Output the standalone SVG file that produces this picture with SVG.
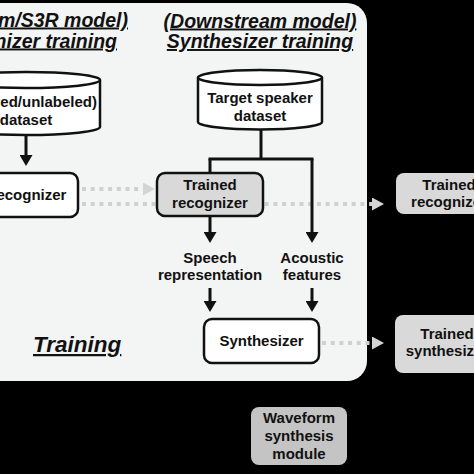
<svg xmlns="http://www.w3.org/2000/svg" width="474" height="474" viewBox="0 0 474 474">
<style>
  text { font-family: "Liberation Sans", Arial, sans-serif; font-weight: bold; fill: #111; }
  .t { font-size: 15px; text-anchor: middle; }
  .title { font-size: 19.5px; font-style: italic; text-decoration: underline; }
  .box { fill: #ffffff; stroke: #111; stroke-width: 2.5; }
  .gbox { fill: #d9d9d9; stroke: #111; stroke-width: 2.5; }
  .obox { fill: #d9d9d9; }
  .wbox { fill: #c4c4c4; }
  .line { fill: none; stroke: #111; stroke-width: 3; }
  .dot { fill: none; stroke: #d0d0d0; stroke-width: 4; stroke-dasharray: 4 4.7; }
</style>
<defs>
  <marker id="ah" markerUnits="userSpaceOnUse" markerWidth="12" markerHeight="13" refX="0" refY="6.5" orient="auto">
    <path d="M0,0 L11,6.5 L0,13 Z" fill="#111"/>
  </marker>
  <marker id="gh" markerUnits="userSpaceOnUse" markerWidth="13" markerHeight="13" refX="0" refY="6.5" orient="auto">
    <path d="M0,0 L12,6.5 L0,13 Z" fill="#d4d4d4"/>
  </marker>
</defs>
<rect x="0" y="0" width="474" height="474" fill="#000"/>
<rect id="panel" x="-30" y="3" width="397" height="378" rx="20" fill="#f3f4f4"/>

<g id="titles">
  <text class="title" x="128" y="26.5" text-anchor="end">(Upstream/S3R model)</text>
  <text class="title" x="117" y="47.5" text-anchor="end">Recognizer training</text>
  <text class="title" x="260" y="27.5" text-anchor="middle">(Downstream model)</text>
  <text class="title" x="260" y="48" text-anchor="middle">Synthesizer training</text>
</g>

<g id="connectors">
  <path class="dot" d="M82,189 H143" marker-end="url(#gh)"/>
  <path class="dot" d="M82,204 H372" marker-end="url(#gh)"/>
  <path class="dot" d="M322,343 H372" marker-end="url(#gh)"/>
  <path class="line" d="M26,135 V155" marker-end="url(#ah)"/>
  <path class="line" d="M261,129 V159"/>
  <path class="line" d="M208.5,159 H313.5"/>
  <path class="line" d="M210,159 V173"/>
  <path class="line" d="M312,159 V232" marker-end="url(#ah)"/>
  <path class="line" d="M210,216 V232" marker-end="url(#ah)"/>
  <path class="line" d="M210,288 V301" marker-end="url(#ah)"/>
  <path class="line" d="M312,288 V301" marker-end="url(#ah)"/>
</g>

<g id="labeled-dataset">
  <path class="box" d="M-48,80 V127 A74,8 0 0 0 100,127 V80"/>
  <ellipse class="box" cx="26" cy="80" rx="74" ry="8"/>
  <text class="t" x="97" y="107" style="text-anchor:end">(Labeled/unlabeled)</text>
  <text class="t" x="26" y="125">dataset</text>
</g>

<g id="target-dataset">
  <path class="box" d="M198,77.5 V122 A62,7.5 0 0 0 322,122 V77.5"/>
  <ellipse class="box" cx="260" cy="77.5" rx="62" ry="7.5"/>
  <text class="t" x="260" y="103">Target speaker</text>
  <text class="t" x="260" y="121">dataset</text>
</g>

<g id="recognizer">
  <rect class="box" x="-26" y="173" width="104" height="44" rx="8"/>
  <text class="t" x="26" y="200">Recognizer</text>
</g>

<g id="trained-recognizer">
  <rect class="gbox" x="157" y="173" width="106" height="43" rx="8"/>
  <text class="t" x="210" y="190">Trained</text>
  <text class="t" x="210" y="208">recognizer</text>
</g>

<g id="speech-representation">
  <text class="t" x="210" y="263">Speech</text>
  <text class="t" x="210" y="280">representation</text>
</g>

<g id="acoustic-features">
  <text class="t" x="312" y="263">Acoustic</text>
  <text class="t" x="312" y="280">features</text>
</g>

<g id="synthesizer">
  <rect class="box" x="204" y="319" width="115" height="44" rx="8"/>
  <text class="t" x="261.5" y="346">Synthesizer</text>
</g>

<g id="training-label">
  <text x="33" y="352" style="font-size:22.5px;font-style:italic;text-decoration:underline">Training</text>
</g>

<g id="out-trained-recognizer">
  <rect class="obox" x="396" y="173" width="106" height="41" rx="8"/>
  <text class="t" x="449" y="190">Trained</text>
  <text class="t" x="449" y="207">recognizer</text>
</g>

<g id="out-trained-synthesizer">
  <rect class="obox" x="395" y="315" width="110" height="58" rx="8"/>
  <text class="t" x="447" y="339">Trained</text>
  <text class="t" x="447" y="356">synthesizer</text>
</g>

<g id="waveform-module">
  <rect class="wbox" x="251" y="407" width="96" height="58" rx="8"/>
  <text class="t" x="299" y="423">Waveform</text>
  <text class="t" x="299" y="441">synthesis</text>
  <text class="t" x="299" y="459">module</text>
</g>
</svg>
